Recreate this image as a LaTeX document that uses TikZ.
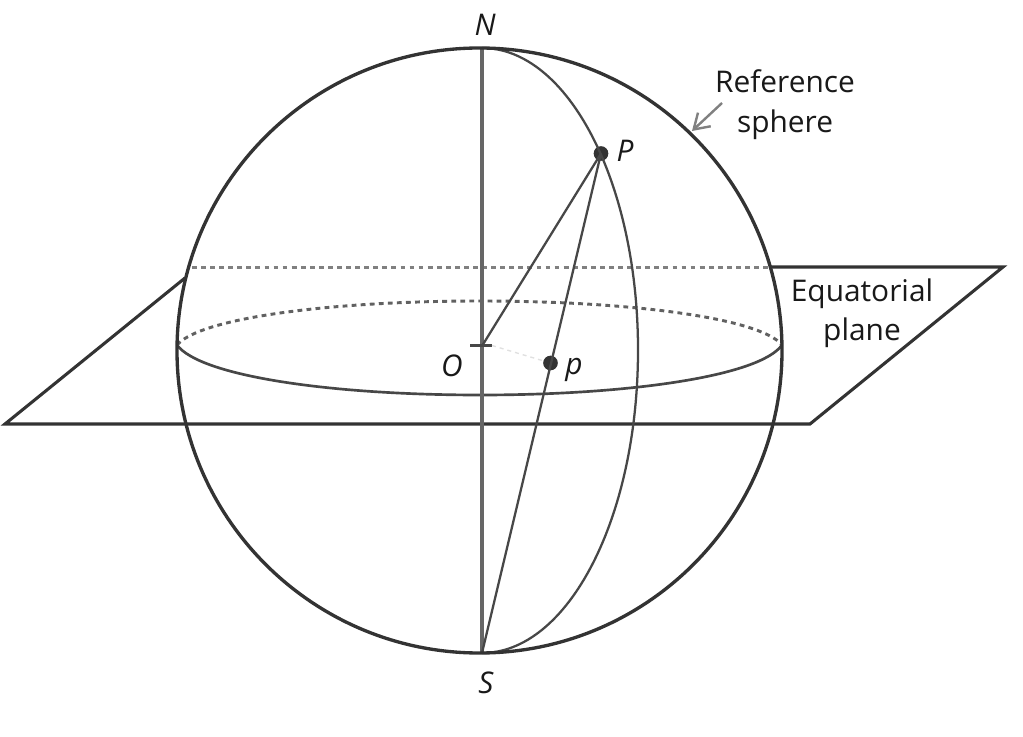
\documentclass[tikz,border=0pt]{standalone}
\usepackage{fontspec}
\setmainfont{Open Sans}
\usetikzlibrary{arrows.meta}
\definecolor{ink}{HTML}{333333}
\tikzset{
  sph/.style={draw=ink,line width=2.5pt},
  thin line/.style={draw=ink!90,line width=1.7pt},
  axisline/.style={draw=black!60,line width=2.4pt},
  planeline/.style={draw=ink,line width=2.3pt,line cap=round},
  hidden/.style={draw=black!62,line width=2.2pt,dash pattern=on 3.6pt off 3.2pt},
  dot/.style={circle,fill=ink,inner sep=0pt,minimum size=11pt},
  lab/.style={font=\fontsize{22.4}{26}\selectfont,inner sep=0pt,text=black!90},
  ital/.style={lab,font=\fontsize{22.4}{26}\selectfont\itshape},
}
\begin{document}
\begin{tikzpicture}[x=0.75pt,y=-0.75pt]
\useasboundingbox (0,0) rectangle (1023,737);
\fill[white] (0,0) rectangle (1023,737);
% points
\coordinate (N) at (482,48);
\coordinate (S) at (482,653);
\coordinate (O) at (482,346);
\coordinate (A) at (5,424);
\coordinate (B) at (810,424);
\coordinate (C) at (1003,267);
\coordinate (D) at (771,267);
\coordinate (E) at (185,278);
\coordinate (F) at (192,267.5);
\coordinate (F2) at (771,267.5);
\coordinate (OL) at (470,345.5);
\coordinate (OR) at (492,345.5);
\coordinate (W) at (177,345);
\coordinate (Z) at (782,345);
\coordinate (R1) at (722,103);
\coordinate (R2) at (692,131);
\node[dot] (P) at (601,153.5) {};
\node[dot] (p) at (550.5,363) {};
% plane
\draw[planeline] (E) -- (A) -- (B) -- (C) -- (D);
\draw[hidden,line width=2.6pt,draw=black!50] (F) -- (F2);
% equator
\draw[hidden] (W) .. controls (200,318) and (330,301) .. (480,301) .. controls (630,301) and (760,318) .. (Z);
\draw[thin line,line width=2pt] (W) .. controls (200,376) and (330,395) .. (480,395) .. controls (630,395) and (760,376) .. (Z);
% axis
\draw[axisline] (N) -- (S);
\draw[thin line,line width=2.4pt] (OL) -- (OR);
% lines
\draw[thin line] (O) -- (P.center);
\draw[thin line] (P.center) -- (S);
\draw[black!12,line width=1pt,dashed] (OR) -- (p);
% meridian
\draw[thin line] (N) .. controls (568,48) and (638,183) .. (638,350) .. controls (638,518) and (568,653) .. (S);
% sphere
\draw[sph] (479.5,350.5) circle [radius=302.5];
% arrow
\draw[draw=black!50,line width=1.8pt,-{Straight Barb[length=11pt,width=14pt]}] (R1) -- (R2);
% labels
\node[ital] (lN) at (485,25) {N};
\node[ital] (lS) at (486,683) {S};
\node[ital] (lP) at (625,151) {P};
\node[ital] (lO) at (452,366) {O};
\node[ital] (lp) at (574,370) {p};
\node[lab,align=center] (lR) at (785,104.5) {Reference\\[3.5pt]sphere};
\node[lab,align=center] (lE) at (862,313) {Equatorial\\[3.5pt]plane};
\end{tikzpicture}
\end{document}
